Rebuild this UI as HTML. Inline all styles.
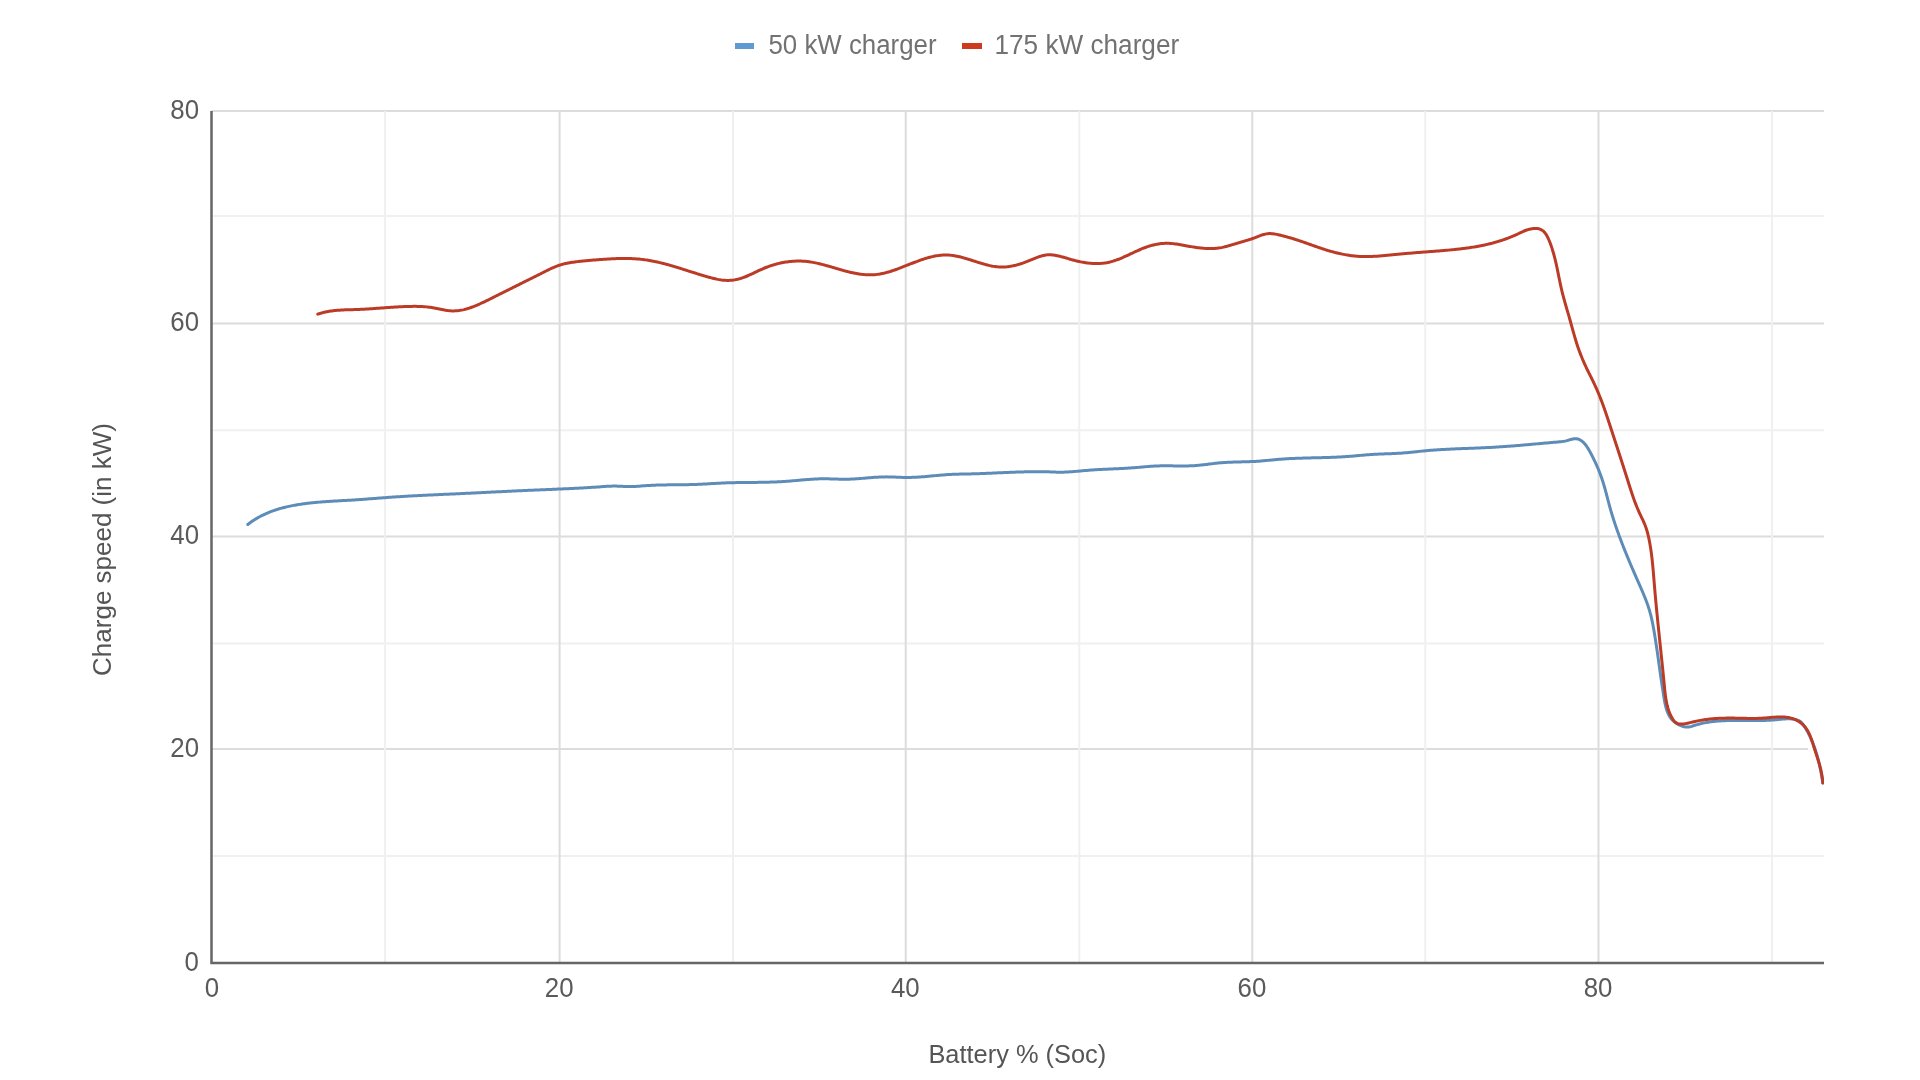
<!DOCTYPE html>
<html><head><meta charset="utf-8"><style>
html,body{margin:0;padding:0;background:#fff;width:1920px;height:1080px;overflow:hidden}
svg{display:block;font-family:"Liberation Sans",sans-serif;will-change:transform}
</style></head><body>
<svg width="1920" height="1080" viewBox="0 0 1920 1080">
<rect width="1920" height="1080" fill="#fff"/>
<g stroke-width="2" fill="none">
<line x1="211.5" y1="111.0" x2="1824.0" y2="111.0" stroke="#dcdcdc"/>
<line x1="211.5" y1="216.1" x2="1824.0" y2="216.1" stroke="#f0f0f0"/>
<line x1="211.5" y1="323.6" x2="1824.0" y2="323.6" stroke="#dcdcdc"/>
<line x1="211.5" y1="430.2" x2="1824.0" y2="430.2" stroke="#f0f0f0"/>
<line x1="211.5" y1="536.5" x2="1824.0" y2="536.5" stroke="#dcdcdc"/>
<line x1="211.5" y1="643.4" x2="1824.0" y2="643.4" stroke="#f0f0f0"/>
<line x1="211.5" y1="749.1" x2="1808.0" y2="749.1" stroke="#dcdcdc"/>
<line x1="211.5" y1="856.1" x2="1824.0" y2="856.1" stroke="#f0f0f0"/>
<line x1="385.1" y1="111.0" x2="385.1" y2="963.0" stroke="#f0f0f0"/>
<line x1="559.6" y1="111.0" x2="559.6" y2="963.0" stroke="#dcdcdc"/>
<line x1="733.0" y1="111.0" x2="733.0" y2="963.0" stroke="#f0f0f0"/>
<line x1="905.7" y1="111.0" x2="905.7" y2="963.0" stroke="#dcdcdc"/>
<line x1="1079.3" y1="111.0" x2="1079.3" y2="963.0" stroke="#f0f0f0"/>
<line x1="1252.3" y1="111.0" x2="1252.3" y2="963.0" stroke="#dcdcdc"/>
<line x1="1425.3" y1="111.0" x2="1425.3" y2="963.0" stroke="#f0f0f0"/>
<line x1="1598.5" y1="111.0" x2="1598.5" y2="963.0" stroke="#dcdcdc"/>
<line x1="1771.9" y1="111.0" x2="1771.9" y2="963.0" stroke="#f0f0f0"/>
</g>
<g>
<text transform="translate(199.0 970.7) scale(0.940 1)" font-size="27.5" fill="#5a5a5a" text-anchor="end">0</text>
<text transform="translate(199.0 756.6) scale(0.940 1)" font-size="27.5" fill="#5a5a5a" text-anchor="end">20</text>
<text transform="translate(199.0 544.0) scale(0.940 1)" font-size="27.5" fill="#5a5a5a" text-anchor="end">40</text>
<text transform="translate(199.0 331.1) scale(0.940 1)" font-size="27.5" fill="#5a5a5a" text-anchor="end">60</text>
<text transform="translate(199.0 118.5) scale(0.940 1)" font-size="27.5" fill="#5a5a5a" text-anchor="end">80</text>
<text transform="translate(212.0 997.0) scale(0.940 1)" font-size="27.5" fill="#5a5a5a" text-anchor="middle">0</text>
<text transform="translate(559.2 997.0) scale(0.940 1)" font-size="27.5" fill="#5a5a5a" text-anchor="middle">20</text>
<text transform="translate(905.3 997.0) scale(0.940 1)" font-size="27.5" fill="#5a5a5a" text-anchor="middle">40</text>
<text transform="translate(1251.9 997.0) scale(0.940 1)" font-size="27.5" fill="#5a5a5a" text-anchor="middle">60</text>
<text transform="translate(1598.1 997.0) scale(0.940 1)" font-size="27.5" fill="#5a5a5a" text-anchor="middle">80</text>
</g>
<path d="M211.5 111.0 V963.0 H1824.0" stroke="#666" stroke-width="2.5" fill="none"/>
<defs><clipPath id="pc"><rect x="0" y="0" width="1824" height="1080"/></clipPath></defs>
<g clip-path="url(#pc)">
<path d="M247.80 524.50 L248.78 523.73 L249.78 522.98 L250.78 522.25 L251.79 521.54 L252.81 520.85 L253.83 520.17 L254.87 519.51 L255.91 518.86 L256.96 518.24 L258.02 517.62 L259.09 517.03 L260.16 516.45 L261.24 515.88 L262.33 515.34 L263.42 514.80 L264.52 514.28 L265.63 513.78 L266.75 513.29 L267.87 512.81 L268.99 512.35 L270.12 511.90 L271.26 511.46 L272.40 511.04 L273.55 510.63 L274.70 510.23 L275.86 509.85 L277.02 509.48 L278.19 509.12 L279.36 508.77 L280.54 508.43 L281.72 508.10 L282.90 507.78 L284.09 507.48 L285.28 507.18 L286.47 506.90 L287.67 506.62 L288.87 506.36 L290.07 506.10 L291.27 505.85 L292.48 505.61 L293.69 505.38 L294.90 505.16 L296.12 504.95 L297.33 504.74 L298.55 504.55 L299.77 504.36 L300.99 504.17 L302.21 504.00 L303.43 503.83 L304.65 503.66 L305.87 503.51 L307.09 503.36 L308.32 503.21 L309.54 503.07 L310.76 502.94 L311.98 502.81 L313.20 502.68 L314.42 502.56 L315.65 502.44 L316.87 502.33 L318.09 502.22 L319.31 502.12 L320.53 502.02 L321.75 501.92 L322.97 501.83 L324.18 501.74 L325.40 501.65 L326.62 501.57 L327.84 501.48 L329.06 501.40 L330.28 501.32 L331.50 501.25 L332.71 501.17 L333.93 501.10 L335.15 501.03 L336.37 500.96 L337.59 500.89 L338.81 500.82 L340.02 500.75 L341.24 500.68 L342.46 500.62 L343.68 500.55 L344.90 500.48 L346.12 500.41 L347.33 500.35 L348.55 500.28 L349.77 500.21 L350.99 500.14 L352.21 500.06 L353.43 499.99 L354.65 499.91 L355.87 499.84 L357.09 499.76 L358.31 499.67 L359.53 499.59 L360.75 499.51 L361.97 499.42 L363.19 499.33 L364.41 499.24 L365.64 499.15 L366.86 499.05 L368.08 498.96 L369.30 498.86 L370.52 498.77 L371.75 498.67 L372.97 498.58 L374.19 498.48 L375.41 498.38 L376.64 498.29 L377.86 498.19 L379.08 498.09 L380.30 498.00 L381.53 497.90 L382.75 497.81 L383.97 497.72 L385.20 497.63 L386.42 497.54 L387.64 497.45 L388.86 497.36 L390.09 497.28 L391.31 497.19 L392.53 497.11 L393.75 497.03 L394.98 496.94 L396.20 496.86 L397.42 496.79 L398.64 496.71 L399.87 496.63 L401.09 496.56 L402.31 496.48 L403.53 496.41 L404.75 496.34 L405.98 496.26 L407.20 496.19 L408.42 496.12 L409.64 496.06 L410.87 495.99 L412.09 495.92 L413.31 495.85 L414.53 495.79 L415.75 495.72 L416.98 495.66 L418.20 495.60 L419.42 495.53 L420.64 495.47 L421.86 495.41 L423.09 495.35 L424.31 495.29 L425.53 495.23 L426.75 495.17 L427.97 495.11 L429.20 495.05 L430.42 494.99 L431.64 494.93 L432.86 494.88 L434.08 494.82 L435.31 494.76 L436.53 494.71 L437.75 494.65 L438.97 494.59 L440.19 494.54 L441.41 494.48 L442.64 494.43 L443.86 494.37 L445.08 494.32 L446.30 494.26 L447.52 494.21 L448.75 494.15 L449.97 494.10 L451.19 494.04 L452.41 493.99 L453.64 493.93 L454.86 493.88 L456.08 493.82 L457.30 493.76 L458.52 493.71 L459.75 493.65 L460.97 493.60 L462.19 493.54 L463.41 493.48 L464.63 493.43 L465.86 493.37 L467.08 493.31 L468.30 493.25 L469.52 493.19 L470.75 493.14 L471.97 493.08 L473.19 493.02 L474.41 492.96 L475.64 492.90 L476.86 492.84 L478.08 492.78 L479.30 492.72 L480.53 492.66 L481.75 492.60 L482.97 492.54 L484.19 492.48 L485.42 492.42 L486.64 492.36 L487.86 492.30 L489.08 492.24 L490.31 492.18 L491.53 492.12 L492.75 492.06 L493.98 491.99 L495.20 491.93 L496.42 491.87 L497.64 491.81 L498.87 491.75 L500.09 491.69 L501.31 491.63 L502.53 491.57 L503.76 491.51 L504.98 491.45 L506.20 491.39 L507.43 491.33 L508.65 491.28 L509.87 491.22 L511.09 491.16 L512.32 491.10 L513.54 491.04 L514.76 490.98 L515.99 490.92 L517.21 490.87 L518.43 490.81 L519.65 490.75 L520.88 490.70 L522.10 490.64 L523.32 490.58 L524.55 490.53 L525.77 490.47 L526.99 490.42 L528.21 490.36 L529.44 490.31 L530.66 490.26 L531.88 490.20 L533.11 490.15 L534.33 490.10 L535.55 490.05 L536.77 490.00 L538.00 489.94 L539.22 489.89 L540.44 489.84 L541.67 489.79 L542.89 489.74 L544.11 489.69 L545.33 489.64 L546.56 489.59 L547.78 489.54 L549.00 489.49 L550.23 489.43 L551.45 489.38 L552.67 489.33 L553.89 489.28 L555.12 489.23 L556.34 489.18 L557.56 489.12 L558.79 489.07 L560.01 489.02 L561.23 488.96 L562.45 488.91 L563.68 488.86 L564.90 488.80 L566.12 488.74 L567.34 488.69 L568.57 488.63 L569.79 488.57 L571.01 488.51 L572.23 488.45 L573.46 488.39 L574.68 488.33 L575.90 488.27 L577.12 488.21 L578.35 488.15 L579.57 488.08 L580.79 488.02 L582.01 487.95 L583.24 487.88 L584.46 487.81 L585.68 487.74 L586.90 487.67 L588.13 487.60 L589.35 487.52 L590.57 487.45 L591.79 487.37 L593.02 487.29 L594.24 487.22 L595.46 487.13 L596.68 487.05 L597.90 486.97 L599.13 486.88 L600.35 486.80 L601.57 486.71 L602.79 486.62 L604.02 486.53 L605.24 486.45 L606.46 486.37 L607.68 486.30 L608.90 486.24 L610.13 486.18 L611.35 486.14 L612.57 486.11 L613.79 486.09 L615.02 486.09 L616.24 486.10 L617.46 486.14 L618.68 486.18 L619.90 486.24 L621.13 486.30 L622.35 486.37 L623.57 486.43 L624.79 486.49 L626.02 486.54 L627.24 486.57 L628.46 486.59 L629.68 486.59 L630.91 486.57 L632.13 486.54 L633.35 486.50 L634.57 486.44 L635.80 486.38 L637.02 486.31 L638.24 486.23 L639.46 486.14 L640.68 486.05 L641.91 485.96 L643.13 485.87 L644.35 485.78 L645.57 485.69 L646.80 485.60 L648.02 485.52 L649.24 485.45 L650.47 485.38 L651.69 485.32 L652.91 485.26 L654.14 485.21 L655.36 485.16 L656.58 485.11 L657.81 485.07 L659.03 485.04 L660.26 485.00 L661.48 484.97 L662.70 484.94 L663.93 484.92 L665.15 484.90 L666.38 484.88 L667.60 484.86 L668.82 484.85 L670.05 484.83 L671.27 484.82 L672.50 484.81 L673.72 484.79 L674.95 484.78 L676.17 484.77 L677.39 484.76 L678.62 484.75 L679.84 484.74 L681.07 484.73 L682.29 484.72 L683.51 484.70 L684.74 484.69 L685.96 484.67 L687.18 484.65 L688.41 484.63 L689.63 484.61 L690.85 484.58 L692.08 484.55 L693.30 484.52 L694.52 484.48 L695.75 484.44 L696.97 484.40 L698.19 484.35 L699.41 484.30 L700.64 484.24 L701.86 484.18 L703.08 484.12 L704.30 484.05 L705.52 483.98 L706.75 483.91 L707.97 483.84 L709.19 483.77 L710.41 483.69 L711.63 483.62 L712.85 483.54 L714.08 483.47 L715.30 483.40 L716.52 483.33 L717.74 483.26 L718.96 483.19 L720.19 483.13 L721.41 483.07 L722.63 483.02 L723.85 482.96 L725.08 482.92 L726.30 482.87 L727.52 482.83 L728.74 482.79 L729.97 482.76 L731.19 482.73 L732.41 482.70 L733.64 482.67 L734.86 482.64 L736.08 482.62 L737.31 482.60 L738.53 482.58 L739.76 482.56 L740.98 482.55 L742.20 482.53 L743.43 482.52 L744.65 482.50 L745.88 482.49 L747.10 482.48 L748.32 482.47 L749.55 482.46 L750.77 482.45 L752.00 482.44 L753.22 482.42 L754.44 482.41 L755.67 482.40 L756.89 482.38 L758.12 482.37 L759.34 482.35 L760.56 482.34 L761.79 482.32 L763.01 482.29 L764.23 482.27 L765.46 482.25 L766.68 482.22 L767.90 482.19 L769.13 482.16 L770.35 482.12 L771.57 482.08 L772.79 482.04 L774.02 482.00 L775.24 481.95 L776.46 481.90 L777.68 481.84 L778.91 481.78 L780.13 481.72 L781.35 481.65 L782.57 481.57 L783.79 481.50 L785.01 481.41 L786.23 481.33 L787.45 481.23 L788.67 481.14 L789.89 481.04 L791.11 480.94 L792.33 480.83 L793.55 480.73 L794.77 480.62 L795.99 480.51 L797.21 480.40 L798.43 480.29 L799.65 480.18 L800.87 480.07 L802.09 479.97 L803.31 479.86 L804.53 479.76 L805.75 479.66 L806.97 479.56 L808.19 479.47 L809.41 479.38 L810.64 479.29 L811.86 479.21 L813.08 479.14 L814.30 479.07 L815.52 479.01 L816.74 478.95 L817.96 478.91 L819.19 478.87 L820.41 478.84 L821.63 478.81 L822.86 478.80 L824.08 478.80 L825.31 478.80 L826.53 478.82 L827.75 478.84 L828.98 478.86 L830.21 478.89 L831.43 478.93 L832.66 478.96 L833.88 479.00 L835.11 479.04 L836.33 479.08 L837.56 479.12 L838.79 479.15 L840.01 479.18 L841.24 479.20 L842.46 479.22 L843.69 479.23 L844.91 479.24 L846.14 479.23 L847.36 479.22 L848.59 479.19 L849.81 479.15 L851.03 479.11 L852.26 479.05 L853.48 478.99 L854.70 478.92 L855.92 478.84 L857.15 478.75 L858.37 478.67 L859.59 478.57 L860.81 478.48 L862.03 478.37 L863.25 478.27 L864.48 478.17 L865.70 478.06 L866.92 477.96 L868.14 477.85 L869.36 477.75 L870.58 477.65 L871.80 477.55 L873.02 477.46 L874.24 477.37 L875.46 477.28 L876.69 477.20 L877.91 477.13 L879.13 477.07 L880.35 477.01 L881.57 476.96 L882.79 476.92 L884.02 476.89 L885.24 476.88 L886.46 476.87 L887.68 476.88 L888.91 476.89 L890.13 476.92 L891.35 476.95 L892.57 477.00 L893.80 477.04 L895.02 477.09 L896.24 477.14 L897.47 477.19 L898.69 477.25 L899.92 477.29 L901.14 477.34 L902.36 477.38 L903.58 477.41 L904.81 477.44 L906.03 477.45 L907.25 477.46 L908.48 477.45 L909.70 477.43 L910.92 477.41 L912.14 477.37 L913.36 477.33 L914.59 477.28 L915.81 477.22 L917.03 477.15 L918.25 477.08 L919.47 477.00 L920.69 476.91 L921.92 476.82 L923.14 476.73 L924.36 476.63 L925.58 476.53 L926.80 476.42 L928.02 476.31 L929.24 476.20 L930.46 476.09 L931.68 475.98 L932.91 475.86 L934.13 475.75 L935.35 475.63 L936.57 475.52 L937.79 475.41 L939.01 475.30 L940.23 475.19 L941.45 475.08 L942.67 474.98 L943.89 474.88 L945.12 474.79 L946.34 474.70 L947.56 474.61 L948.78 474.53 L950.00 474.46 L951.22 474.39 L952.45 474.34 L953.67 474.28 L954.89 474.24 L956.11 474.20 L957.34 474.17 L958.56 474.14 L959.78 474.11 L961.01 474.09 L962.23 474.07 L963.45 474.05 L964.67 474.03 L965.90 474.01 L967.12 473.99 L968.34 473.96 L969.57 473.93 L970.79 473.90 L972.01 473.87 L973.24 473.84 L974.46 473.80 L975.68 473.76 L976.91 473.72 L978.13 473.68 L979.36 473.64 L980.58 473.59 L981.80 473.55 L983.03 473.50 L984.25 473.45 L985.47 473.40 L986.70 473.35 L987.92 473.30 L989.14 473.25 L990.37 473.19 L991.59 473.14 L992.82 473.08 L994.04 473.03 L995.26 472.98 L996.49 472.92 L997.71 472.87 L998.93 472.81 L1000.16 472.76 L1001.38 472.70 L1002.61 472.65 L1003.83 472.59 L1005.05 472.54 L1006.28 472.49 L1007.50 472.44 L1008.73 472.38 L1009.95 472.33 L1011.17 472.29 L1012.40 472.24 L1013.62 472.19 L1014.84 472.15 L1016.07 472.10 L1017.29 472.06 L1018.52 472.02 L1019.74 471.98 L1020.96 471.95 L1022.19 471.91 L1023.41 471.88 L1024.63 471.85 L1025.86 471.82 L1027.08 471.80 L1028.30 471.77 L1029.53 471.75 L1030.75 471.74 L1031.97 471.72 L1033.20 471.71 L1034.42 471.70 L1035.64 471.70 L1036.87 471.69 L1038.09 471.69 L1039.31 471.70 L1040.54 471.71 L1041.76 471.72 L1042.98 471.74 L1044.20 471.76 L1045.43 471.78 L1046.65 471.81 L1047.87 471.84 L1049.09 471.87 L1050.32 471.91 L1051.54 471.96 L1052.76 472.01 L1053.98 472.06 L1055.21 472.10 L1056.43 472.14 L1057.65 472.17 L1058.87 472.19 L1060.10 472.20 L1061.32 472.19 L1062.54 472.17 L1063.76 472.14 L1064.98 472.10 L1066.20 472.05 L1067.43 471.99 L1068.65 471.92 L1069.87 471.84 L1071.09 471.76 L1072.31 471.67 L1073.53 471.57 L1074.75 471.47 L1075.97 471.37 L1077.19 471.26 L1078.41 471.15 L1079.62 471.04 L1080.84 470.93 L1082.06 470.82 L1083.28 470.71 L1084.49 470.60 L1085.71 470.49 L1086.93 470.39 L1088.14 470.28 L1089.36 470.19 L1090.58 470.09 L1091.80 470.00 L1093.02 469.92 L1094.23 469.84 L1095.45 469.76 L1096.67 469.68 L1097.89 469.61 L1099.12 469.54 L1100.34 469.48 L1101.56 469.41 L1102.78 469.35 L1104.00 469.29 L1105.22 469.24 L1106.45 469.18 L1107.67 469.13 L1108.89 469.07 L1110.11 469.02 L1111.34 468.97 L1112.56 468.91 L1113.78 468.86 L1115.01 468.80 L1116.23 468.75 L1117.45 468.70 L1118.68 468.64 L1119.90 468.58 L1121.12 468.52 L1122.35 468.46 L1123.57 468.39 L1124.79 468.33 L1126.02 468.26 L1127.24 468.19 L1128.46 468.11 L1129.68 468.03 L1130.90 467.95 L1132.13 467.86 L1133.35 467.77 L1134.57 467.67 L1135.79 467.58 L1137.01 467.47 L1138.23 467.37 L1139.45 467.26 L1140.67 467.15 L1141.89 467.04 L1143.11 466.94 L1144.33 466.83 L1145.54 466.72 L1146.76 466.62 L1147.98 466.52 L1149.20 466.43 L1150.42 466.34 L1151.64 466.25 L1152.87 466.17 L1154.09 466.10 L1155.31 466.04 L1156.53 465.98 L1157.75 465.93 L1158.98 465.90 L1160.20 465.87 L1161.42 465.84 L1162.65 465.83 L1163.87 465.82 L1165.10 465.82 L1166.32 465.82 L1167.55 465.82 L1168.77 465.83 L1170.00 465.84 L1171.22 465.86 L1172.45 465.87 L1173.67 465.89 L1174.90 465.90 L1176.12 465.92 L1177.35 465.93 L1178.58 465.94 L1179.80 465.95 L1181.03 465.96 L1182.25 465.96 L1183.47 465.96 L1184.70 465.96 L1185.92 465.94 L1187.15 465.93 L1188.37 465.90 L1189.59 465.86 L1190.81 465.82 L1192.04 465.77 L1193.26 465.71 L1194.48 465.64 L1195.70 465.55 L1196.92 465.46 L1198.14 465.35 L1199.35 465.24 L1200.57 465.11 L1201.79 464.98 L1203.01 464.84 L1204.22 464.70 L1205.44 464.55 L1206.65 464.40 L1207.87 464.25 L1209.09 464.09 L1210.30 463.94 L1211.52 463.78 L1212.73 463.63 L1213.95 463.49 L1215.17 463.34 L1216.39 463.21 L1217.60 463.08 L1218.82 462.96 L1220.04 462.84 L1221.26 462.74 L1222.48 462.65 L1223.70 462.56 L1224.92 462.48 L1226.14 462.41 L1227.37 462.34 L1228.59 462.28 L1229.81 462.23 L1231.03 462.18 L1232.26 462.14 L1233.48 462.10 L1234.70 462.06 L1235.93 462.03 L1237.15 461.99 L1238.38 461.96 L1239.60 461.93 L1240.83 461.90 L1242.05 461.87 L1243.27 461.84 L1244.50 461.81 L1245.72 461.78 L1246.95 461.74 L1248.17 461.70 L1249.40 461.66 L1250.62 461.62 L1251.84 461.56 L1253.07 461.51 L1254.29 461.45 L1255.51 461.38 L1256.73 461.31 L1257.95 461.22 L1259.17 461.13 L1260.40 461.04 L1261.62 460.94 L1262.84 460.83 L1264.06 460.72 L1265.28 460.61 L1266.49 460.50 L1267.71 460.38 L1268.93 460.26 L1270.15 460.14 L1271.37 460.02 L1272.59 459.90 L1273.81 459.79 L1275.03 459.67 L1276.25 459.56 L1277.47 459.45 L1278.69 459.35 L1279.91 459.25 L1281.13 459.16 L1282.35 459.07 L1283.57 458.98 L1284.79 458.90 L1286.01 458.83 L1287.24 458.76 L1288.46 458.69 L1289.68 458.62 L1290.90 458.56 L1292.12 458.50 L1293.35 458.45 L1294.57 458.39 L1295.79 458.34 L1297.01 458.30 L1298.24 458.25 L1299.46 458.21 L1300.68 458.17 L1301.91 458.13 L1303.13 458.09 L1304.36 458.06 L1305.58 458.02 L1306.80 457.99 L1308.03 457.96 L1309.25 457.93 L1310.47 457.90 L1311.70 457.87 L1312.92 457.84 L1314.15 457.81 L1315.37 457.78 L1316.59 457.75 L1317.82 457.72 L1319.04 457.70 L1320.27 457.67 L1321.49 457.64 L1322.71 457.60 L1323.94 457.57 L1325.16 457.54 L1326.39 457.50 L1327.61 457.47 L1328.83 457.43 L1330.06 457.39 L1331.28 457.34 L1332.50 457.30 L1333.72 457.25 L1334.95 457.20 L1336.17 457.15 L1337.39 457.09 L1338.62 457.04 L1339.84 456.97 L1341.06 456.91 L1342.28 456.84 L1343.50 456.77 L1344.72 456.69 L1345.95 456.61 L1347.17 456.53 L1348.39 456.44 L1349.61 456.34 L1350.83 456.25 L1352.05 456.14 L1353.27 456.04 L1354.49 455.93 L1355.71 455.82 L1356.93 455.71 L1358.15 455.60 L1359.37 455.49 L1360.59 455.38 L1361.81 455.27 L1363.03 455.16 L1364.25 455.05 L1365.47 454.95 L1366.69 454.85 L1367.91 454.75 L1369.13 454.66 L1370.35 454.57 L1371.57 454.48 L1372.79 454.41 L1374.01 454.33 L1375.23 454.27 L1376.46 454.21 L1377.68 454.15 L1378.90 454.09 L1380.13 454.04 L1381.35 454.00 L1382.57 453.95 L1383.80 453.91 L1385.02 453.86 L1386.24 453.82 L1387.47 453.78 L1388.69 453.73 L1389.91 453.69 L1391.14 453.64 L1392.36 453.59 L1393.58 453.54 L1394.81 453.48 L1396.03 453.43 L1397.25 453.36 L1398.47 453.29 L1399.69 453.22 L1400.92 453.14 L1402.14 453.05 L1403.36 452.96 L1404.58 452.86 L1405.80 452.75 L1407.02 452.64 L1408.24 452.52 L1409.45 452.40 L1410.67 452.28 L1411.89 452.15 L1413.11 452.03 L1414.33 451.90 L1415.55 451.77 L1416.77 451.64 L1417.98 451.51 L1419.20 451.38 L1420.42 451.25 L1421.64 451.13 L1422.86 451.00 L1424.08 450.89 L1425.30 450.77 L1426.52 450.66 L1427.74 450.56 L1428.95 450.45 L1430.17 450.35 L1431.39 450.26 L1432.61 450.16 L1433.84 450.07 L1435.06 449.99 L1436.28 449.90 L1437.50 449.82 L1438.72 449.74 L1439.94 449.66 L1441.16 449.59 L1442.38 449.52 L1443.60 449.45 L1444.83 449.38 L1446.05 449.32 L1447.27 449.26 L1448.49 449.19 L1449.71 449.14 L1450.94 449.08 L1452.16 449.02 L1453.38 448.97 L1454.60 448.91 L1455.83 448.86 L1457.05 448.81 L1458.27 448.76 L1459.49 448.71 L1460.72 448.66 L1461.94 448.61 L1463.16 448.57 L1464.38 448.52 L1465.61 448.47 L1466.83 448.42 L1468.05 448.38 L1469.28 448.33 L1470.50 448.29 L1471.72 448.24 L1472.95 448.19 L1474.17 448.14 L1475.39 448.10 L1476.62 448.05 L1477.84 448.00 L1479.06 447.95 L1480.28 447.90 L1481.51 447.84 L1482.73 447.79 L1483.95 447.74 L1485.18 447.68 L1486.40 447.62 L1487.62 447.56 L1488.85 447.50 L1490.07 447.44 L1491.29 447.38 L1492.51 447.31 L1493.74 447.24 L1494.96 447.17 L1496.18 447.10 L1497.40 447.02 L1498.63 446.94 L1499.85 446.87 L1501.07 446.78 L1502.29 446.70 L1503.51 446.62 L1504.73 446.53 L1505.96 446.44 L1507.18 446.35 L1508.40 446.26 L1509.62 446.17 L1510.84 446.07 L1512.06 445.98 L1513.28 445.88 L1514.50 445.78 L1515.73 445.68 L1516.95 445.58 L1518.17 445.48 L1519.39 445.38 L1520.61 445.27 L1521.83 445.17 L1523.05 445.06 L1524.27 444.96 L1525.49 444.85 L1526.71 444.74 L1527.93 444.64 L1529.15 444.53 L1530.37 444.42 L1531.58 444.31 L1532.80 444.20 L1534.02 444.09 L1535.24 443.98 L1536.46 443.87 L1537.68 443.76 L1538.90 443.65 L1540.11 443.54 L1541.33 443.43 L1542.55 443.32 L1543.77 443.21 L1544.99 443.10 L1546.20 443.00 L1547.42 442.89 L1548.64 442.78 L1549.86 442.67 L1551.07 442.57 L1552.29 442.46 L1553.50 442.36 L1554.72 442.25 L1555.94 442.15 L1557.15 442.05 L1558.37 441.94 L1559.59 441.82 L1560.80 441.69 L1562.02 441.54 L1563.24 441.36 L1564.46 441.15 L1565.68 440.91 L1566.90 440.62 L1568.13 440.29 L1569.35 439.92 L1570.57 439.56 L1571.78 439.23 L1572.98 438.94 L1574.16 438.74 L1575.31 438.65 L1576.44 438.70 L1577.55 438.90 L1578.62 439.24 L1579.65 439.70 L1580.65 440.26 L1581.61 440.91 L1582.52 441.64 L1583.40 442.44 L1584.25 443.31 L1585.06 444.23 L1585.84 445.21 L1586.59 446.23 L1587.31 447.29 L1588.01 448.37 L1588.68 449.49 L1589.32 450.62 L1589.95 451.75 L1590.56 452.90 L1591.15 454.04 L1591.73 455.17 L1592.29 456.28 L1592.85 457.37 L1593.39 458.45 L1593.92 459.52 L1594.44 460.58 L1594.96 461.64 L1595.46 462.70 L1595.96 463.77 L1596.45 464.85 L1596.94 465.94 L1597.42 467.04 L1597.89 468.15 L1598.36 469.28 L1598.81 470.41 L1599.27 471.55 L1599.71 472.70 L1600.15 473.85 L1600.58 475.01 L1601.00 476.18 L1601.41 477.35 L1601.82 478.52 L1602.21 479.70 L1602.60 480.88 L1602.98 482.06 L1603.35 483.24 L1603.71 484.43 L1604.06 485.61 L1604.41 486.79 L1604.75 487.98 L1605.08 489.16 L1605.41 490.34 L1605.73 491.52 L1606.05 492.71 L1606.36 493.89 L1606.67 495.07 L1606.98 496.25 L1607.29 497.43 L1607.59 498.61 L1607.90 499.79 L1608.21 500.97 L1608.52 502.15 L1608.83 503.33 L1609.14 504.51 L1609.46 505.68 L1609.78 506.86 L1610.11 508.03 L1610.44 509.20 L1610.78 510.38 L1611.12 511.55 L1611.47 512.72 L1611.82 513.88 L1612.17 515.05 L1612.53 516.22 L1612.89 517.38 L1613.26 518.55 L1613.63 519.71 L1614.01 520.87 L1614.39 522.04 L1614.77 523.20 L1615.16 524.36 L1615.55 525.51 L1615.95 526.67 L1616.35 527.83 L1616.75 528.98 L1617.15 530.14 L1617.56 531.29 L1617.98 532.44 L1618.39 533.60 L1618.81 534.75 L1619.23 535.90 L1619.66 537.04 L1620.09 538.19 L1620.52 539.34 L1620.95 540.49 L1621.39 541.63 L1621.83 542.77 L1622.27 543.92 L1622.71 545.06 L1623.16 546.20 L1623.61 547.34 L1624.06 548.48 L1624.51 549.62 L1624.97 550.76 L1625.42 551.89 L1625.88 553.03 L1626.34 554.17 L1626.81 555.30 L1627.27 556.43 L1627.74 557.57 L1628.21 558.70 L1628.68 559.83 L1629.15 560.96 L1629.63 562.09 L1630.10 563.22 L1630.58 564.35 L1631.06 565.47 L1631.54 566.60 L1632.02 567.72 L1632.50 568.85 L1632.99 569.97 L1633.47 571.10 L1633.96 572.22 L1634.45 573.34 L1634.94 574.46 L1635.43 575.58 L1635.92 576.70 L1636.41 577.82 L1636.91 578.94 L1637.40 580.06 L1637.90 581.18 L1638.39 582.30 L1638.89 583.41 L1639.38 584.53 L1639.88 585.65 L1640.37 586.77 L1640.86 587.89 L1641.35 589.01 L1641.83 590.13 L1642.31 591.25 L1642.79 592.37 L1643.26 593.50 L1643.73 594.63 L1644.19 595.75 L1644.65 596.88 L1645.10 598.02 L1645.55 599.15 L1645.99 600.29 L1646.42 601.43 L1646.84 602.58 L1647.25 603.72 L1647.66 604.87 L1648.05 606.03 L1648.44 607.19 L1648.82 608.35 L1649.18 609.51 L1649.54 610.68 L1649.88 611.86 L1650.21 613.04 L1650.53 614.22 L1650.84 615.41 L1651.13 616.60 L1651.42 617.80 L1651.70 619.00 L1651.96 620.20 L1652.22 621.41 L1652.47 622.62 L1652.71 623.83 L1652.94 625.04 L1653.17 626.25 L1653.40 627.47 L1653.61 628.68 L1653.83 629.89 L1654.04 631.11 L1654.24 632.32 L1654.45 633.53 L1654.65 634.75 L1654.85 635.96 L1655.05 637.17 L1655.24 638.38 L1655.43 639.58 L1655.62 640.79 L1655.81 642.00 L1655.99 643.21 L1656.18 644.41 L1656.36 645.62 L1656.54 646.83 L1656.72 648.03 L1656.90 649.24 L1657.07 650.44 L1657.25 651.65 L1657.42 652.85 L1657.60 654.06 L1657.77 655.26 L1657.94 656.47 L1658.11 657.67 L1658.28 658.88 L1658.45 660.08 L1658.62 661.28 L1658.79 662.49 L1658.95 663.70 L1659.12 664.90 L1659.29 666.11 L1659.46 667.31 L1659.63 668.52 L1659.80 669.73 L1659.97 670.93 L1660.14 672.14 L1660.31 673.35 L1660.48 674.56 L1660.65 675.77 L1660.82 676.98 L1661.00 678.19 L1661.17 679.40 L1661.35 680.62 L1661.53 681.83 L1661.71 683.04 L1661.89 684.26 L1662.07 685.48 L1662.25 686.69 L1662.44 687.91 L1662.63 689.13 L1662.82 690.35 L1663.01 691.58 L1663.20 692.80 L1663.40 694.03 L1663.60 695.25 L1663.80 696.48 L1664.01 697.71 L1664.21 698.94 L1664.42 700.17 L1664.64 701.40 L1664.88 702.62 L1665.12 703.84 L1665.38 705.05 L1665.66 706.26 L1665.97 707.45 L1666.30 708.62 L1666.66 709.78 L1667.05 710.93 L1667.48 712.05 L1667.94 713.16 L1668.44 714.24 L1668.99 715.29 L1669.59 716.32 L1670.23 717.32 L1670.93 718.29 L1671.68 719.22 L1672.50 720.12 L1673.37 720.99 L1674.30 721.81 L1675.29 722.59 L1676.33 723.32 L1677.41 724.00 L1678.52 724.63 L1679.65 725.20 L1680.81 725.70 L1681.98 726.14 L1683.16 726.49 L1684.35 726.77 L1685.55 726.95 L1686.74 727.04 L1687.93 727.02 L1689.12 726.90 L1690.30 726.68 L1691.47 726.38 L1692.64 726.03 L1693.81 725.66 L1694.99 725.28 L1696.16 724.91 L1697.34 724.57 L1698.52 724.24 L1699.70 723.93 L1700.89 723.63 L1702.08 723.36 L1703.27 723.10 L1704.47 722.85 L1705.66 722.62 L1706.86 722.40 L1708.06 722.20 L1709.27 722.02 L1710.48 721.84 L1711.69 721.68 L1712.90 721.53 L1714.11 721.40 L1715.32 721.27 L1716.54 721.16 L1717.76 721.05 L1718.98 720.96 L1720.20 720.88 L1721.42 720.80 L1722.65 720.74 L1723.87 720.68 L1725.10 720.63 L1726.32 720.59 L1727.55 720.55 L1728.78 720.52 L1730.01 720.50 L1731.24 720.48 L1732.47 720.47 L1733.70 720.46 L1734.93 720.46 L1736.16 720.46 L1737.39 720.46 L1738.63 720.47 L1739.86 720.48 L1741.09 720.49 L1742.32 720.50 L1743.55 720.51 L1744.78 720.53 L1746.01 720.54 L1747.23 720.55 L1748.46 720.57 L1749.69 720.58 L1750.91 720.58 L1752.14 720.59 L1753.36 720.60 L1754.58 720.60 L1755.80 720.59 L1757.02 720.59 L1758.23 720.57 L1759.45 720.56 L1760.66 720.53 L1761.87 720.51 L1763.08 720.47 L1764.29 720.43 L1765.50 720.38 L1766.71 720.33 L1767.92 720.27 L1769.13 720.21 L1770.34 720.13 L1771.55 720.05 L1772.77 719.97 L1774.00 719.88 L1775.23 719.78 L1776.46 719.68 L1777.71 719.57 L1778.96 719.45 L1780.21 719.33 L1781.48 719.22 L1782.74 719.11 L1784.01 719.01 L1785.27 718.92 L1786.54 718.86 L1787.79 718.82 L1789.05 718.82 L1790.29 718.85 L1791.53 718.92 L1792.76 719.04 L1793.97 719.20 L1795.17 719.43 L1796.34 719.71 L1797.49 720.07 L1798.59 720.51 L1799.62 721.06 L1800.57 721.72 L1801.44 722.50 L1802.25 723.36 L1803.00 724.29 L1803.70 725.28 L1804.37 726.30 L1805.02 727.34 L1805.66 728.39 L1806.28 729.45 L1806.89 730.51 L1807.48 731.59 L1808.06 732.66 L1808.63 733.75 L1809.18 734.84 L1809.72 735.95 L1810.24 737.05 L1810.75 738.16 L1811.25 739.28 L1811.74 740.41 L1812.21 741.54 L1812.68 742.67 L1813.13 743.82 L1813.57 744.96 L1814.00 746.11 L1814.41 747.27 L1814.82 748.43 L1815.21 749.59 L1815.60 750.76 L1815.97 751.93 L1816.34 753.11 L1816.69 754.28 L1817.04 755.47 L1817.37 756.65 L1817.70 757.84 L1818.02 759.03 L1818.33 760.22 L1818.62 761.41 L1818.92 762.61 L1819.20 763.80 L1819.48 765.00 L1819.74 766.20 L1820.00 767.40 L1820.26 768.60 L1820.50 769.81 L1820.74 771.01 L1820.97 772.21 L1821.20 773.41 L1821.42 774.61 L1821.63 775.82 L1821.84 777.02 L1822.04 778.22 L1822.24 779.41 L1822.43 780.61 L1822.62 781.81 L1822.80 783.00" stroke="#5e8cb9" stroke-width="3" fill="none" stroke-linejoin="round" stroke-linecap="round"/>
<path d="M317.80 314.20 L319.06 313.76 L320.33 313.35 L321.60 312.98 L322.88 312.63 L324.15 312.31 L325.44 312.01 L326.72 311.74 L328.01 311.50 L329.30 311.27 L330.59 311.07 L331.89 310.89 L333.19 310.72 L334.49 310.57 L335.79 310.44 L337.10 310.33 L338.40 310.23 L339.71 310.14 L341.02 310.06 L342.34 309.99 L343.65 309.93 L344.96 309.87 L346.28 309.83 L347.59 309.78 L348.91 309.74 L350.22 309.71 L351.54 309.67 L352.86 309.63 L354.17 309.60 L355.49 309.56 L356.81 309.51 L358.12 309.46 L359.44 309.41 L360.75 309.35 L362.07 309.28 L363.38 309.21 L364.69 309.14 L366.01 309.07 L367.32 308.99 L368.63 308.90 L369.94 308.82 L371.26 308.73 L372.57 308.64 L373.88 308.55 L375.19 308.45 L376.50 308.36 L377.81 308.26 L379.12 308.17 L380.43 308.07 L381.74 307.97 L383.05 307.88 L384.36 307.78 L385.67 307.68 L386.99 307.59 L388.30 307.50 L389.61 307.40 L390.92 307.32 L392.23 307.23 L393.54 307.14 L394.85 307.06 L396.16 306.98 L397.47 306.91 L398.78 306.83 L400.10 306.76 L401.41 306.70 L402.72 306.64 L404.03 306.59 L405.35 306.54 L406.66 306.49 L407.97 306.46 L409.29 306.42 L410.60 306.40 L411.92 306.38 L413.23 306.37 L414.55 306.36 L415.87 306.37 L417.18 306.38 L418.50 306.41 L419.81 306.45 L421.13 306.50 L422.44 306.57 L423.75 306.65 L425.06 306.75 L426.37 306.87 L427.68 307.00 L428.98 307.16 L430.29 307.33 L431.59 307.53 L432.88 307.75 L434.18 307.99 L435.47 308.24 L436.76 308.51 L438.05 308.78 L439.34 309.05 L440.63 309.32 L441.92 309.59 L443.22 309.84 L444.51 310.07 L445.81 310.29 L447.10 310.47 L448.41 310.63 L449.71 310.76 L451.02 310.84 L452.34 310.89 L453.65 310.90 L454.97 310.86 L456.29 310.79 L457.60 310.68 L458.91 310.54 L460.21 310.35 L461.51 310.13 L462.80 309.88 L464.09 309.59 L465.36 309.27 L466.63 308.92 L467.89 308.55 L469.15 308.15 L470.39 307.72 L471.63 307.28 L472.87 306.81 L474.10 306.33 L475.32 305.84 L476.54 305.33 L477.75 304.81 L478.96 304.28 L480.16 303.75 L481.36 303.20 L482.55 302.65 L483.75 302.09 L484.93 301.53 L486.12 300.96 L487.30 300.39 L488.48 299.81 L489.66 299.23 L490.84 298.64 L492.01 298.05 L493.19 297.46 L494.36 296.87 L495.53 296.28 L496.71 295.69 L497.88 295.10 L499.05 294.51 L500.23 293.92 L501.40 293.33 L502.58 292.74 L503.75 292.15 L504.92 291.57 L506.10 290.98 L507.27 290.39 L508.45 289.81 L509.63 289.22 L510.80 288.64 L511.98 288.05 L513.15 287.46 L514.33 286.88 L515.50 286.29 L516.68 285.71 L517.86 285.12 L519.03 284.54 L520.21 283.95 L521.39 283.37 L522.56 282.78 L523.74 282.20 L524.92 281.61 L526.09 281.03 L527.27 280.44 L528.45 279.86 L529.62 279.27 L530.80 278.68 L531.98 278.09 L533.15 277.51 L534.33 276.92 L535.51 276.33 L536.68 275.74 L537.86 275.15 L539.04 274.56 L540.21 273.97 L541.39 273.38 L542.56 272.78 L543.74 272.19 L544.92 271.60 L546.09 271.01 L547.27 270.42 L548.45 269.83 L549.63 269.26 L550.82 268.70 L552.01 268.15 L553.21 267.61 L554.42 267.09 L555.63 266.60 L556.85 266.12 L558.08 265.67 L559.32 265.25 L560.58 264.86 L561.84 264.49 L563.11 264.15 L564.39 263.83 L565.67 263.54 L566.97 263.27 L568.26 263.02 L569.56 262.78 L570.87 262.56 L572.17 262.35 L573.48 262.16 L574.79 261.98 L576.10 261.80 L577.40 261.63 L578.71 261.48 L580.01 261.32 L581.31 261.18 L582.62 261.04 L583.92 260.91 L585.22 260.78 L586.53 260.66 L587.83 260.54 L589.13 260.42 L590.44 260.31 L591.74 260.21 L593.05 260.10 L594.35 260.00 L595.66 259.90 L596.97 259.80 L598.28 259.70 L599.59 259.60 L600.90 259.51 L602.21 259.41 L603.53 259.32 L604.84 259.23 L606.16 259.15 L607.47 259.06 L608.79 258.98 L610.11 258.91 L611.43 258.84 L612.74 258.78 L614.06 258.72 L615.38 258.66 L616.70 258.62 L618.02 258.58 L619.34 258.54 L620.66 258.51 L621.97 258.50 L623.29 258.48 L624.61 258.48 L625.93 258.49 L627.24 258.50 L628.56 258.53 L629.87 258.56 L631.19 258.60 L632.50 258.66 L633.81 258.73 L635.12 258.80 L636.43 258.89 L637.74 258.99 L639.05 259.11 L640.35 259.23 L641.66 259.37 L642.96 259.53 L644.26 259.69 L645.56 259.87 L646.85 260.06 L648.15 260.27 L649.44 260.49 L650.74 260.71 L652.03 260.95 L653.32 261.20 L654.60 261.46 L655.89 261.73 L657.17 262.01 L658.45 262.30 L659.74 262.60 L661.01 262.91 L662.29 263.22 L663.57 263.54 L664.84 263.87 L666.12 264.21 L667.39 264.55 L668.66 264.90 L669.93 265.26 L671.19 265.62 L672.46 265.99 L673.72 266.36 L674.98 266.73 L676.24 267.11 L677.50 267.50 L678.76 267.89 L680.02 268.28 L681.27 268.67 L682.52 269.06 L683.77 269.46 L685.03 269.86 L686.28 270.26 L687.52 270.66 L688.77 271.06 L690.02 271.46 L691.27 271.86 L692.52 272.25 L693.77 272.65 L695.02 273.05 L696.27 273.44 L697.52 273.83 L698.77 274.22 L700.03 274.61 L701.28 274.99 L702.54 275.37 L703.80 275.74 L705.06 276.11 L706.32 276.48 L707.59 276.83 L708.86 277.19 L710.13 277.53 L711.40 277.87 L712.68 278.21 L713.96 278.53 L715.25 278.83 L716.53 279.12 L717.83 279.39 L719.13 279.63 L720.43 279.84 L721.74 280.02 L723.05 280.17 L724.36 280.28 L725.68 280.35 L727.00 280.39 L728.32 280.38 L729.64 280.35 L730.95 280.27 L732.26 280.16 L733.56 280.00 L734.85 279.81 L736.13 279.58 L737.40 279.31 L738.67 279.01 L739.92 278.66 L741.16 278.29 L742.39 277.88 L743.61 277.45 L744.83 276.99 L746.04 276.50 L747.24 276.00 L748.44 275.48 L749.64 274.94 L750.83 274.39 L752.02 273.83 L753.21 273.27 L754.40 272.69 L755.59 272.12 L756.79 271.55 L757.98 270.97 L759.18 270.41 L760.39 269.85 L761.60 269.30 L762.81 268.77 L764.03 268.25 L765.26 267.75 L766.50 267.26 L767.74 266.79 L768.99 266.34 L770.25 265.90 L771.51 265.49 L772.78 265.09 L774.05 264.71 L775.32 264.34 L776.60 264.00 L777.89 263.67 L779.18 263.36 L780.47 263.07 L781.76 262.80 L783.06 262.55 L784.36 262.31 L785.66 262.10 L786.96 261.91 L788.27 261.73 L789.57 261.58 L790.88 261.44 L792.18 261.33 L793.49 261.23 L794.79 261.16 L796.10 261.11 L797.41 261.08 L798.71 261.07 L800.01 261.08 L801.31 261.11 L802.61 261.16 L803.90 261.24 L805.20 261.33 L806.49 261.45 L807.77 261.59 L809.05 261.76 L810.33 261.94 L811.61 262.14 L812.89 262.36 L814.16 262.60 L815.43 262.85 L816.70 263.12 L817.97 263.41 L819.23 263.70 L820.50 264.01 L821.77 264.33 L823.03 264.66 L824.30 265.00 L825.56 265.35 L826.83 265.70 L828.09 266.06 L829.36 266.43 L830.63 266.80 L831.90 267.17 L833.17 267.55 L834.45 267.92 L835.73 268.30 L837.01 268.68 L838.29 269.05 L839.58 269.42 L840.86 269.79 L842.16 270.15 L843.45 270.51 L844.75 270.86 L846.06 271.20 L847.36 271.54 L848.67 271.86 L849.98 272.17 L851.29 272.47 L852.60 272.76 L853.92 273.03 L855.23 273.29 L856.54 273.53 L857.86 273.76 L859.17 273.96 L860.48 274.15 L861.79 274.32 L863.10 274.46 L864.41 274.59 L865.71 274.69 L867.01 274.76 L868.31 274.81 L869.60 274.83 L870.89 274.83 L872.18 274.79 L873.46 274.73 L874.74 274.64 L876.01 274.52 L877.28 274.37 L878.55 274.19 L879.81 273.99 L881.07 273.76 L882.32 273.51 L883.57 273.24 L884.82 272.95 L886.07 272.63 L887.32 272.30 L888.56 271.95 L889.80 271.58 L891.04 271.20 L892.28 270.80 L893.52 270.39 L894.76 269.96 L896.00 269.52 L897.24 269.07 L898.48 268.61 L899.72 268.15 L900.96 267.67 L902.21 267.19 L903.45 266.71 L904.70 266.21 L905.95 265.72 L907.20 265.22 L908.45 264.73 L909.71 264.23 L910.96 263.73 L912.22 263.24 L913.48 262.75 L914.74 262.26 L916.01 261.78 L917.27 261.31 L918.54 260.85 L919.81 260.39 L921.08 259.95 L922.35 259.51 L923.62 259.09 L924.90 258.69 L926.17 258.29 L927.45 257.92 L928.72 257.56 L930.00 257.22 L931.28 256.90 L932.56 256.60 L933.84 256.32 L935.12 256.07 L936.40 255.84 L937.67 255.63 L938.96 255.46 L940.24 255.31 L941.52 255.18 L942.80 255.09 L944.08 255.03 L945.36 255.00 L946.64 255.01 L947.91 255.05 L949.19 255.12 L950.47 255.23 L951.75 255.37 L953.03 255.53 L954.30 255.73 L955.58 255.95 L956.86 256.20 L958.13 256.47 L959.41 256.76 L960.69 257.07 L961.96 257.40 L963.24 257.74 L964.51 258.10 L965.79 258.47 L967.06 258.85 L968.34 259.24 L969.62 259.64 L970.89 260.04 L972.17 260.45 L973.44 260.86 L974.72 261.28 L976.00 261.69 L977.27 262.09 L978.55 262.50 L979.83 262.89 L981.10 263.28 L982.38 263.66 L983.66 264.03 L984.94 264.39 L986.22 264.73 L987.50 265.05 L988.78 265.36 L990.06 265.65 L991.34 265.91 L992.62 266.16 L993.90 266.37 L995.18 266.56 L996.47 266.73 L997.75 266.86 L999.03 266.96 L1000.32 267.03 L1001.61 267.06 L1002.89 267.06 L1004.18 267.02 L1005.47 266.94 L1006.76 266.83 L1008.05 266.69 L1009.33 266.51 L1010.62 266.31 L1011.91 266.07 L1013.20 265.81 L1014.48 265.52 L1015.77 265.21 L1017.05 264.87 L1018.34 264.51 L1019.62 264.13 L1020.90 263.73 L1022.17 263.31 L1023.45 262.87 L1024.72 262.41 L1025.99 261.94 L1027.26 261.46 L1028.52 260.96 L1029.78 260.45 L1031.04 259.94 L1032.30 259.42 L1033.55 258.89 L1034.80 258.38 L1036.04 257.88 L1037.29 257.39 L1038.54 256.93 L1039.78 256.50 L1041.02 256.11 L1042.27 255.75 L1043.51 255.45 L1044.76 255.20 L1046.00 255.00 L1047.25 254.87 L1048.50 254.80 L1049.75 254.79 L1051.01 254.83 L1052.26 254.91 L1053.52 255.05 L1054.78 255.22 L1056.04 255.43 L1057.30 255.68 L1058.57 255.95 L1059.84 256.26 L1061.11 256.58 L1062.38 256.93 L1063.66 257.29 L1064.94 257.66 L1066.22 258.05 L1067.51 258.43 L1068.80 258.82 L1070.09 259.21 L1071.39 259.59 L1072.69 259.96 L1073.99 260.31 L1075.30 260.65 L1076.61 260.98 L1077.92 261.29 L1079.23 261.58 L1080.55 261.86 L1081.87 262.11 L1083.19 262.35 L1084.51 262.57 L1085.82 262.77 L1087.14 262.95 L1088.46 263.11 L1089.78 263.24 L1091.10 263.36 L1092.41 263.45 L1093.73 263.51 L1095.04 263.55 L1096.35 263.57 L1097.65 263.56 L1098.95 263.52 L1100.25 263.45 L1101.55 263.36 L1102.83 263.24 L1104.12 263.09 L1105.40 262.91 L1106.67 262.70 L1107.94 262.45 L1109.20 262.18 L1110.45 261.87 L1111.70 261.54 L1112.95 261.18 L1114.19 260.79 L1115.42 260.38 L1116.65 259.95 L1117.87 259.50 L1119.10 259.03 L1120.32 258.54 L1121.53 258.03 L1122.75 257.51 L1123.96 256.98 L1125.17 256.44 L1126.38 255.89 L1127.58 255.34 L1128.79 254.77 L1130.00 254.21 L1131.21 253.64 L1132.41 253.07 L1133.62 252.50 L1134.83 251.94 L1136.05 251.38 L1137.26 250.83 L1138.48 250.28 L1139.70 249.75 L1140.92 249.22 L1142.15 248.71 L1143.38 248.22 L1144.61 247.74 L1145.85 247.28 L1147.09 246.84 L1148.34 246.42 L1149.60 246.02 L1150.86 245.64 L1152.13 245.29 L1153.39 244.97 L1154.67 244.67 L1155.95 244.40 L1157.23 244.15 L1158.51 243.94 L1159.80 243.75 L1161.09 243.60 L1162.38 243.47 L1163.67 243.38 L1164.97 243.32 L1166.26 243.29 L1167.56 243.30 L1168.86 243.34 L1170.16 243.40 L1171.46 243.50 L1172.76 243.62 L1174.07 243.76 L1175.37 243.92 L1176.67 244.10 L1177.98 244.30 L1179.29 244.51 L1180.59 244.73 L1181.90 244.96 L1183.21 245.19 L1184.52 245.43 L1185.83 245.68 L1187.14 245.92 L1188.45 246.17 L1189.76 246.40 L1191.08 246.64 L1192.39 246.86 L1193.70 247.07 L1195.02 247.28 L1196.33 247.47 L1197.64 247.65 L1198.96 247.82 L1200.27 247.97 L1201.58 248.11 L1202.90 248.23 L1204.21 248.34 L1205.52 248.42 L1206.83 248.49 L1208.13 248.54 L1209.44 248.56 L1210.74 248.56 L1212.05 248.54 L1213.35 248.49 L1214.64 248.42 L1215.94 248.32 L1217.23 248.20 L1218.52 248.04 L1219.81 247.86 L1221.10 247.65 L1222.38 247.40 L1223.66 247.12 L1224.93 246.82 L1226.21 246.49 L1227.48 246.14 L1228.75 245.78 L1230.01 245.40 L1231.28 245.02 L1232.54 244.63 L1233.81 244.23 L1235.07 243.84 L1236.33 243.45 L1237.59 243.07 L1238.85 242.70 L1240.11 242.34 L1241.38 241.99 L1242.64 241.63 L1243.90 241.28 L1245.16 240.92 L1246.41 240.56 L1247.67 240.18 L1248.93 239.79 L1250.18 239.39 L1251.43 238.96 L1252.68 238.51 L1253.93 238.04 L1255.18 237.55 L1256.43 237.06 L1257.68 236.57 L1258.93 236.09 L1260.18 235.63 L1261.43 235.19 L1262.69 234.79 L1263.95 234.44 L1265.21 234.13 L1266.48 233.88 L1267.76 233.71 L1269.04 233.61 L1270.33 233.58 L1271.62 233.64 L1272.92 233.75 L1274.22 233.92 L1275.52 234.14 L1276.83 234.39 L1278.13 234.68 L1279.42 234.98 L1280.72 235.30 L1282.01 235.62 L1283.29 235.95 L1284.57 236.29 L1285.85 236.63 L1287.12 236.98 L1288.39 237.33 L1289.65 237.69 L1290.91 238.06 L1292.17 238.43 L1293.42 238.81 L1294.68 239.20 L1295.93 239.60 L1297.17 240.00 L1298.42 240.41 L1299.66 240.82 L1300.91 241.24 L1302.15 241.67 L1303.39 242.10 L1304.63 242.53 L1305.87 242.96 L1307.11 243.40 L1308.34 243.84 L1309.58 244.28 L1310.82 244.72 L1312.06 245.17 L1313.30 245.61 L1314.54 246.04 L1315.78 246.48 L1317.02 246.91 L1318.27 247.34 L1319.51 247.77 L1320.76 248.19 L1322.01 248.61 L1323.26 249.02 L1324.51 249.42 L1325.77 249.82 L1327.03 250.20 L1328.29 250.58 L1329.55 250.95 L1330.82 251.32 L1332.09 251.67 L1333.36 252.01 L1334.63 252.35 L1335.91 252.67 L1337.19 252.99 L1338.47 253.29 L1339.75 253.58 L1341.04 253.86 L1342.32 254.13 L1343.61 254.39 L1344.90 254.63 L1346.19 254.86 L1347.49 255.08 L1348.78 255.28 L1350.08 255.47 L1351.37 255.65 L1352.67 255.81 L1353.97 255.96 L1355.28 256.09 L1356.58 256.20 L1357.88 256.30 L1359.19 256.39 L1360.49 256.46 L1361.80 256.51 L1363.11 256.54 L1364.42 256.57 L1365.73 256.57 L1367.04 256.57 L1368.35 256.55 L1369.66 256.52 L1370.97 256.48 L1372.29 256.43 L1373.60 256.37 L1374.91 256.30 L1376.23 256.22 L1377.54 256.13 L1378.86 256.04 L1380.17 255.94 L1381.49 255.83 L1382.80 255.72 L1384.12 255.60 L1385.43 255.48 L1386.75 255.35 L1388.06 255.22 L1389.38 255.09 L1390.69 254.96 L1392.01 254.83 L1393.32 254.70 L1394.63 254.56 L1395.95 254.43 L1397.26 254.30 L1398.57 254.17 L1399.88 254.05 L1401.20 253.92 L1402.51 253.80 L1403.82 253.69 L1405.13 253.57 L1406.44 253.46 L1407.75 253.34 L1409.06 253.23 L1410.36 253.13 L1411.67 253.02 L1412.98 252.91 L1414.29 252.81 L1415.60 252.71 L1416.90 252.60 L1418.21 252.50 L1419.52 252.40 L1420.83 252.30 L1422.13 252.20 L1423.44 252.11 L1424.75 252.01 L1426.05 251.91 L1427.36 251.81 L1428.67 251.71 L1429.97 251.61 L1431.28 251.51 L1432.59 251.41 L1433.90 251.31 L1435.20 251.21 L1436.51 251.11 L1437.82 251.00 L1439.13 250.90 L1440.44 250.79 L1441.75 250.69 L1443.06 250.58 L1444.37 250.47 L1445.68 250.35 L1446.99 250.24 L1448.30 250.12 L1449.61 250.00 L1450.92 249.88 L1452.23 249.75 L1453.54 249.62 L1454.85 249.49 L1456.16 249.35 L1457.46 249.21 L1458.77 249.07 L1460.08 248.92 L1461.39 248.76 L1462.69 248.60 L1464.00 248.44 L1465.31 248.27 L1466.61 248.09 L1467.91 247.91 L1469.22 247.73 L1470.52 247.53 L1471.82 247.33 L1473.12 247.13 L1474.42 246.91 L1475.71 246.69 L1477.01 246.46 L1478.30 246.23 L1479.59 245.99 L1480.89 245.74 L1482.18 245.48 L1483.46 245.21 L1484.75 244.93 L1486.03 244.65 L1487.32 244.35 L1488.60 244.05 L1489.87 243.74 L1491.15 243.42 L1492.42 243.09 L1493.69 242.74 L1494.96 242.39 L1496.23 242.03 L1497.49 241.66 L1498.75 241.28 L1500.00 240.89 L1501.25 240.49 L1502.50 240.08 L1503.74 239.66 L1504.98 239.22 L1506.22 238.78 L1507.45 238.33 L1508.67 237.86 L1509.89 237.39 L1511.11 236.90 L1512.31 236.41 L1513.52 235.90 L1514.72 235.38 L1515.91 234.85 L1517.09 234.30 L1518.27 233.75 L1519.45 233.19 L1520.62 232.62 L1521.81 232.06 L1523.00 231.51 L1524.21 230.99 L1525.45 230.49 L1526.72 230.03 L1528.02 229.61 L1529.35 229.25 L1530.71 228.94 L1532.08 228.71 L1533.45 228.55 L1534.81 228.47 L1536.14 228.49 L1537.44 228.60 L1538.69 228.82 L1539.89 229.15 L1541.02 229.61 L1542.06 230.19 L1543.04 230.90 L1543.93 231.71 L1544.77 232.63 L1545.54 233.62 L1546.26 234.70 L1546.93 235.83 L1547.56 237.02 L1548.14 238.24 L1548.70 239.50 L1549.23 240.76 L1549.74 242.03 L1550.23 243.31 L1550.70 244.58 L1551.16 245.85 L1551.60 247.12 L1552.02 248.40 L1552.43 249.67 L1552.82 250.95 L1553.20 252.22 L1553.57 253.50 L1553.92 254.77 L1554.27 256.05 L1554.60 257.32 L1554.92 258.60 L1555.24 259.87 L1555.54 261.15 L1555.84 262.42 L1556.13 263.70 L1556.41 264.98 L1556.69 266.25 L1556.96 267.53 L1557.23 268.81 L1557.49 270.08 L1557.75 271.36 L1558.01 272.64 L1558.27 273.91 L1558.52 275.19 L1558.78 276.47 L1559.04 277.74 L1559.29 279.02 L1559.56 280.29 L1559.82 281.57 L1560.08 282.85 L1560.36 284.12 L1560.63 285.40 L1560.91 286.67 L1561.20 287.95 L1561.49 289.22 L1561.80 290.50 L1562.11 291.77 L1562.42 293.04 L1562.75 294.32 L1563.08 295.59 L1563.42 296.86 L1563.76 298.14 L1564.10 299.41 L1564.46 300.68 L1564.81 301.95 L1565.17 303.22 L1565.53 304.50 L1565.90 305.77 L1566.26 307.04 L1566.63 308.31 L1567.00 309.58 L1567.37 310.85 L1567.74 312.12 L1568.11 313.39 L1568.48 314.66 L1568.85 315.93 L1569.21 317.19 L1569.58 318.46 L1569.94 319.73 L1570.29 321.00 L1570.65 322.27 L1571.00 323.54 L1571.35 324.80 L1571.70 326.07 L1572.04 327.33 L1572.39 328.60 L1572.74 329.86 L1573.09 331.13 L1573.44 332.39 L1573.80 333.65 L1574.16 334.91 L1574.52 336.17 L1574.89 337.43 L1575.26 338.69 L1575.64 339.94 L1576.02 341.19 L1576.41 342.44 L1576.81 343.69 L1577.22 344.94 L1577.63 346.19 L1578.05 347.43 L1578.48 348.67 L1578.92 349.91 L1579.37 351.15 L1579.83 352.38 L1580.29 353.61 L1580.77 354.84 L1581.25 356.07 L1581.74 357.29 L1582.23 358.51 L1582.74 359.72 L1583.26 360.93 L1583.78 362.14 L1584.31 363.35 L1584.86 364.55 L1585.41 365.74 L1585.96 366.93 L1586.53 368.12 L1587.10 369.30 L1587.68 370.49 L1588.26 371.67 L1588.85 372.85 L1589.43 374.02 L1590.02 375.20 L1590.61 376.38 L1591.20 377.55 L1591.78 378.73 L1592.36 379.91 L1592.94 381.09 L1593.52 382.27 L1594.08 383.45 L1594.65 384.64 L1595.20 385.83 L1595.74 387.02 L1596.28 388.22 L1596.81 389.42 L1597.34 390.62 L1597.85 391.83 L1598.36 393.04 L1598.86 394.25 L1599.36 395.47 L1599.85 396.69 L1600.33 397.91 L1600.81 399.13 L1601.28 400.35 L1601.75 401.58 L1602.21 402.81 L1602.67 404.04 L1603.12 405.28 L1603.57 406.51 L1604.01 407.75 L1604.45 408.99 L1604.89 410.23 L1605.32 411.47 L1605.75 412.71 L1606.18 413.96 L1606.60 415.20 L1607.02 416.45 L1607.44 417.70 L1607.86 418.94 L1608.27 420.19 L1608.68 421.44 L1609.09 422.69 L1609.51 423.94 L1609.91 425.19 L1610.32 426.44 L1610.73 427.70 L1611.14 428.95 L1611.55 430.20 L1611.95 431.45 L1612.36 432.70 L1612.77 433.95 L1613.18 435.20 L1613.59 436.45 L1614.00 437.70 L1614.40 438.95 L1614.81 440.20 L1615.22 441.45 L1615.63 442.70 L1616.03 443.95 L1616.44 445.20 L1616.85 446.45 L1617.26 447.70 L1617.66 448.94 L1618.07 450.19 L1618.48 451.44 L1618.88 452.69 L1619.29 453.94 L1619.70 455.19 L1620.10 456.44 L1620.51 457.69 L1620.91 458.94 L1621.31 460.19 L1621.72 461.44 L1622.12 462.69 L1622.52 463.94 L1622.93 465.19 L1623.33 466.44 L1623.73 467.69 L1624.13 468.95 L1624.53 470.20 L1624.93 471.45 L1625.33 472.70 L1625.72 473.95 L1626.12 475.21 L1626.52 476.46 L1626.91 477.71 L1627.31 478.96 L1627.70 480.22 L1628.10 481.47 L1628.49 482.73 L1628.88 483.98 L1629.28 485.23 L1629.68 486.49 L1630.07 487.74 L1630.47 488.99 L1630.88 490.24 L1631.29 491.49 L1631.70 492.73 L1632.11 493.98 L1632.53 495.22 L1632.96 496.47 L1633.39 497.71 L1633.82 498.94 L1634.27 500.18 L1634.72 501.41 L1635.18 502.64 L1635.64 503.86 L1636.12 505.09 L1636.60 506.31 L1637.10 507.52 L1637.60 508.73 L1638.11 509.94 L1638.64 511.14 L1639.18 512.34 L1639.72 513.54 L1640.28 514.73 L1640.85 515.92 L1641.42 517.10 L1641.99 518.29 L1642.56 519.47 L1643.12 520.67 L1643.66 521.86 L1644.19 523.06 L1644.70 524.27 L1645.19 525.49 L1645.65 526.72 L1646.08 527.96 L1646.49 529.21 L1646.88 530.46 L1647.24 531.72 L1647.59 532.99 L1647.92 534.27 L1648.23 535.55 L1648.52 536.83 L1648.81 538.12 L1649.07 539.41 L1649.33 540.71 L1649.58 542.00 L1649.81 543.30 L1650.04 544.60 L1650.26 545.90 L1650.47 547.20 L1650.68 548.50 L1650.87 549.80 L1651.06 551.11 L1651.24 552.41 L1651.41 553.72 L1651.58 555.02 L1651.74 556.33 L1651.90 557.64 L1652.05 558.94 L1652.19 560.25 L1652.33 561.56 L1652.47 562.87 L1652.60 564.18 L1652.73 565.49 L1652.85 566.80 L1652.97 568.12 L1653.09 569.43 L1653.21 570.74 L1653.32 572.05 L1653.43 573.36 L1653.54 574.67 L1653.65 575.99 L1653.76 577.30 L1653.86 578.61 L1653.97 579.92 L1654.08 581.23 L1654.18 582.54 L1654.29 583.85 L1654.40 585.16 L1654.51 586.47 L1654.62 587.78 L1654.73 589.09 L1654.84 590.40 L1654.95 591.71 L1655.07 593.01 L1655.18 594.32 L1655.30 595.63 L1655.42 596.94 L1655.53 598.24 L1655.65 599.55 L1655.77 600.85 L1655.90 602.16 L1656.02 603.46 L1656.14 604.77 L1656.26 606.07 L1656.39 607.38 L1656.51 608.68 L1656.64 609.99 L1656.77 611.29 L1656.89 612.59 L1657.02 613.90 L1657.15 615.20 L1657.28 616.51 L1657.41 617.81 L1657.54 619.11 L1657.67 620.42 L1657.80 621.72 L1657.93 623.02 L1658.07 624.33 L1658.20 625.63 L1658.33 626.93 L1658.47 628.24 L1658.60 629.54 L1658.74 630.85 L1658.87 632.15 L1659.00 633.45 L1659.14 634.76 L1659.28 636.06 L1659.41 637.37 L1659.55 638.67 L1659.68 639.98 L1659.82 641.28 L1659.96 642.59 L1660.09 643.89 L1660.23 645.20 L1660.37 646.51 L1660.50 647.81 L1660.64 649.12 L1660.78 650.43 L1660.91 651.73 L1661.05 653.04 L1661.18 654.35 L1661.32 655.66 L1661.46 656.97 L1661.59 658.28 L1661.73 659.59 L1661.86 660.90 L1662.00 662.21 L1662.13 663.52 L1662.27 664.83 L1662.40 666.14 L1662.54 667.46 L1662.67 668.77 L1662.80 670.09 L1662.94 671.40 L1663.07 672.72 L1663.20 674.03 L1663.33 675.35 L1663.46 676.67 L1663.59 677.98 L1663.72 679.30 L1663.85 680.62 L1663.98 681.94 L1664.11 683.26 L1664.23 684.58 L1664.36 685.91 L1664.49 687.23 L1664.61 688.55 L1664.75 689.87 L1664.88 691.19 L1665.03 692.51 L1665.18 693.83 L1665.34 695.14 L1665.52 696.45 L1665.71 697.76 L1665.91 699.06 L1666.13 700.35 L1666.37 701.64 L1666.63 702.92 L1666.91 704.20 L1667.21 705.47 L1667.54 706.73 L1667.89 707.98 L1668.27 709.22 L1668.68 710.45 L1669.13 711.67 L1669.60 712.88 L1670.11 714.08 L1670.66 715.27 L1671.25 716.44 L1671.87 717.60 L1672.54 718.75 L1673.25 719.86 L1674.03 720.90 L1674.88 721.84 L1675.82 722.64 L1676.86 723.27 L1678.00 723.70 L1679.24 723.96 L1680.55 724.06 L1681.90 724.03 L1683.28 723.91 L1684.67 723.73 L1686.03 723.50 L1687.38 723.24 L1688.71 722.95 L1690.02 722.66 L1691.33 722.35 L1692.63 722.03 L1693.92 721.72 L1695.21 721.42 L1696.50 721.14 L1697.79 720.87 L1699.08 720.62 L1700.38 720.38 L1701.67 720.15 L1702.97 719.94 L1704.26 719.75 L1705.56 719.56 L1706.86 719.39 L1708.16 719.23 L1709.46 719.09 L1710.76 718.95 L1712.06 718.83 L1713.36 718.72 L1714.67 718.62 L1715.97 718.52 L1717.28 718.44 L1718.58 718.37 L1719.89 718.31 L1721.20 718.26 L1722.51 718.21 L1723.82 718.17 L1725.13 718.14 L1726.44 718.12 L1727.75 718.11 L1729.07 718.10 L1730.38 718.09 L1731.70 718.10 L1733.01 718.10 L1734.33 718.12 L1735.65 718.14 L1736.97 718.16 L1738.29 718.19 L1739.61 718.21 L1740.93 718.25 L1742.25 718.28 L1743.58 718.31 L1744.90 718.34 L1746.22 718.37 L1747.54 718.39 L1748.86 718.41 L1750.18 718.43 L1751.50 718.44 L1752.82 718.44 L1754.13 718.44 L1755.45 718.43 L1756.76 718.40 L1758.07 718.37 L1759.37 718.32 L1760.68 718.26 L1761.98 718.19 L1763.28 718.10 L1764.57 718.01 L1765.87 717.90 L1767.16 717.79 L1768.46 717.67 L1769.76 717.56 L1771.06 717.44 L1772.36 717.34 L1773.67 717.24 L1774.98 717.15 L1776.30 717.07 L1777.62 717.01 L1778.95 716.98 L1780.29 716.96 L1781.64 716.97 L1782.98 717.01 L1784.32 717.09 L1785.66 717.20 L1786.99 717.36 L1788.31 717.57 L1789.61 717.82 L1790.90 718.14 L1792.17 718.50 L1793.42 718.93 L1794.64 719.40 L1795.84 719.94 L1797.00 720.52 L1798.14 721.15 L1799.24 721.84 L1800.30 722.57 L1801.33 723.35 L1802.31 724.18 L1803.25 725.06 L1804.14 725.98 L1804.98 726.94 L1805.77 727.95 L1806.51 729.00 L1807.21 730.08 L1807.87 731.20 L1808.48 732.35 L1809.07 733.53 L1809.62 734.73 L1810.14 735.95 L1810.63 737.19 L1811.11 738.45 L1811.56 739.72 L1812.00 741.00 L1812.42 742.29 L1812.84 743.58 L1813.25 744.87 L1813.65 746.16 L1814.06 747.44 L1814.46 748.72 L1814.87 749.99 L1815.28 751.25 L1815.69 752.50 L1816.10 753.75 L1816.51 755.00 L1816.92 756.24 L1817.32 757.48 L1817.71 758.72 L1818.10 759.95 L1818.48 761.19 L1818.86 762.43 L1819.22 763.66 L1819.57 764.90 L1819.91 766.15 L1820.24 767.40 L1820.56 768.65 L1820.86 769.91 L1821.14 771.17 L1821.41 772.44 L1821.66 773.73 L1821.89 775.02 L1822.10 776.32 L1822.28 777.63 L1822.45 778.95 L1822.59 780.29 L1822.71 781.64 L1822.80 783.00" stroke="#bb3b26" stroke-width="3" fill="none" stroke-linejoin="round" stroke-linecap="round"/>
</g>
<rect x="735" y="43" width="19" height="6" fill="#5f9bd0"/>
<text transform="translate(768.5 54.0) scale(0.940 1)" font-size="27.5" fill="#727272" text-anchor="start">50 kW charger</text>
<rect x="962" y="43" width="20" height="6" fill="#cc3b1f"/>
<text transform="translate(994.5 54.0) scale(0.952 1)" font-size="27.5" fill="#727272" text-anchor="start">175 kW charger</text>
<text transform="translate(1017.3 1063.0) scale(1.000 1)" font-size="25.4" fill="#555" text-anchor="middle">Battery % (Soc)</text>
<text transform="translate(111 549.5) rotate(-90)" font-size="26" fill="#555" text-anchor="middle">Charge speed (in kW)</text>
</svg>
</body></html>
